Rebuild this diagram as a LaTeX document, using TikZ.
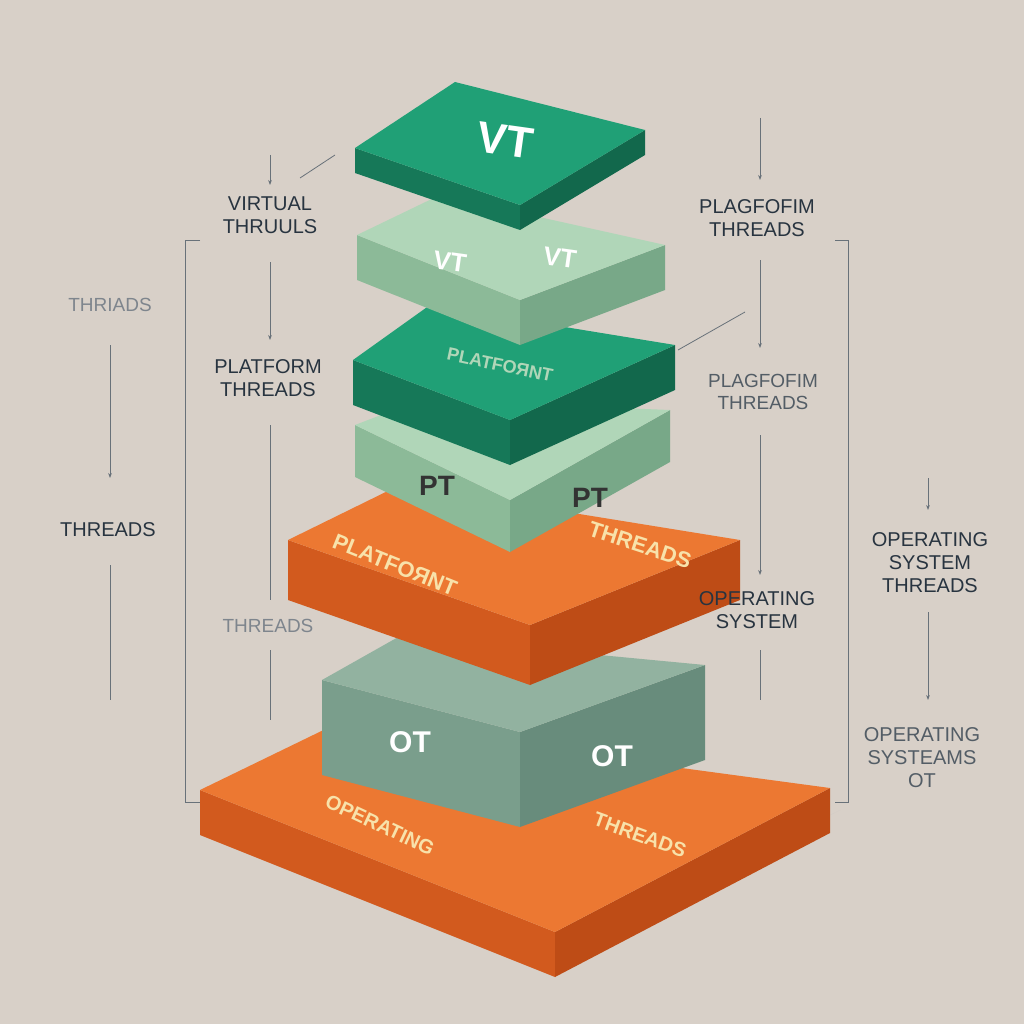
\documentclass[tikz,border=0pt]{standalone}
\usepackage{fontspec}
\setmainfont{Liberation Sans}
\usetikzlibrary{calc,arrows.meta}
\definecolor{bg}{RGB}{216,208,200}
\definecolor{gtop}{RGB}{32,160,118}
\definecolor{gl}{RGB}{22,120,88}
\definecolor{gr}{RGB}{18,104,76}
\definecolor{lgtop}{RGB}{176,214,184}
\definecolor{lgl}{RGB}{140,186,152}
\definecolor{lgr}{RGB}{120,168,136}
\definecolor{otop}{RGB}{236,120,50}
\definecolor{ol}{RGB}{210,90,30}
\definecolor{orr}{RGB}{190,76,22}
\definecolor{ttop}{RGB}{146,178,160}
\definecolor{tl}{RGB}{122,158,140}
\definecolor{tr}{RGB}{104,140,124}
\definecolor{lab}{RGB}{40,52,64}
\definecolor{cream}{RGB}{248,226,170}
\newcommand\slabdraw[8]{%
 \fill[#2] (#4) -- (#7) -- ($(#7)+(0,#8)$) -- ($(#4)+(0,#8)$) -- cycle;
 \fill[#3] (#7) -- (#6) -- ($(#6)+(0,#8)$) -- ($(#7)+(0,#8)$) -- cycle;
 \fill[#1] (#4) -- (#5) -- (#6) -- (#7) -- cycle;}
\tikzset{lbl/.style={align=center,text=lab,font=\fontsize{20}{23}\selectfont},
 glbl/.style={align=center,text=lab!60,font=\fontsize{19}{22}\selectfont},
 ln/.style={draw=lab!70,line width=0.8pt},
 arr/.style={ln,-{Stealth[length=5pt]}},
 onslab/.style={font=\bfseries\fontsize{#1}{#1}\selectfont}}
\begin{document}
\begin{tikzpicture}[x=1pt,y=-1pt]
\fill[bg] (0,0) rectangle (1024,1024);
\useasboundingbox (0,0) rectangle (1024,1024);
% shadows
\fill[black!25,opacity=0.35] (215,810) -- (560,955) -- (840,810) -- (560,950) -- cycle;
% slabs bottom to top
\slabdraw{otop}{ol}{orr}{200,790}{340,722}{830,788}{555,932}{45}
\slabdraw{ttop}{tl}{tr}{322,680}{400,636}{705,665}{520,732}{95}
\slabdraw{otop}{ol}{orr}{288,540}{400,485}{740,540}{530,625}{60}
\slabdraw{lgtop}{lgl}{lgr}{355,425}{420,400}{670,410}{510,500}{52}
\slabdraw{gtop}{gl}{gr}{353,360}{430,305}{675,345}{510,420}{45}
\slabdraw{lgtop}{lgl}{lgr}{357,235}{440,195}{665,245}{520,300}{45}
\slabdraw{gtop}{gl}{gr}{355,148}{455,82}{645,130}{520,205}{25}
% slab texts
\node[onslab=44,text=white,rotate=-8] (vt1) at (505,140) {VT};
\node[onslab=26,text=white,rotate=-8] (vt2) at (450,262) {VT};
\node[onslab=26,text=white,rotate=-8] (vt3) at (560,258) {VT};
\node[onslab=18,text=lgtop,rotate=-12] (pl1) at (500,365) {PLATFOЯNT};
\node[onslab=28,text=black!80] (pt1) at (437,486) {PT};
\node[onslab=28,text=black!80] (pt2) at (590,498) {PT};
\node[onslab=22,text=cream,rotate=-22] (pl2) at (395,565) {PLATFOЯNT};
\node[onslab=22,text=cream,rotate=-18] (th1) at (640,545) {THREADS};
\node[onslab=30,text=white] (ot1) at (410,742) {OT};
\node[onslab=30,text=white] (ot2) at (612,756) {OT};
\node[onslab=20,text=cream,rotate=-25] (op1) at (380,825) {OPERATING};
\node[onslab=20,text=cream,rotate=-20] (th2) at (640,835) {THREADS};
% labels left
\node[lbl] (l1) at (270,215) {VIRTUAL\\THRUULS};
\node[glbl] (l2) at (110,305) {THRIADS};
\node[lbl] (l3) at (268,378) {PLATFORM\\THREADS};
\node[lbl] (l4) at (108,530) {THREADS};
\node[glbl] (l5) at (268,626) {THREADS};
% labels right
\node[lbl] (r1) at (757,218) {PLAGFOFIM\\THREADS};
\node[glbl,text=lab!80] (r2) at (763,392) {PLAGFOFIM\\THREADS};
\node[lbl] (r3) at (930,563) {OPERATING\\SYSTEM\\THREADS};
\node[lbl] (r4) at (757,610) {OPERATING\\SYSTEM};
\node[lbl,text=lab!80] (r5) at (922,758) {OPERATING\\SYSTEAMS\\OT};
% coordinates for connectors
\coordinate (a1) at (270,155); \coordinate (a1e) at (270,185);
\coordinate (a2) at (270,262); \coordinate (a2e) at (270,340);
\coordinate (a3) at (270,425); \coordinate (a3e) at (270,600);
\coordinate (a4) at (270,650); \coordinate (a4e) at (270,720);
\coordinate (b1) at (110,345); \coordinate (b1e) at (110,478);
\coordinate (b2) at (110,565); \coordinate (b2e) at (110,700);
\coordinate (c1) at (760,118); \coordinate (c1e) at (760,180);
\coordinate (c2) at (760,260); \coordinate (c2e) at (760,348);
\coordinate (c3) at (760,435); \coordinate (c3e) at (760,575);
\coordinate (c4) at (760,650); \coordinate (c4e) at (760,700);
\coordinate (d1) at (928,478); \coordinate (d1e) at (928,510);
\coordinate (d2) at (928,612); \coordinate (d2e) at (928,700);
\draw[arr] (a1) -- (a1e);
\draw[arr] (a2) -- (a2e);
\draw[ln] (a3) -- (a3e);
\draw[ln] (a4) -- (a4e);
\draw[arr] (b1) -- (b1e);
\draw[ln] (b2) -- (b2e);
\draw[arr] (c1) -- (c1e);
\draw[arr] (c2) -- (c2e);
\draw[arr] (c3) -- (c3e);
\draw[ln] (c4) -- (c4e);
\draw[arr] (d1) -- (d1e);
\draw[arr] (d2) -- (d2e);
% brackets
\coordinate (lb1) at (200,240); \coordinate (lb2) at (200,802);
\draw[ln] (lb1) -- ++(-15,0) |- (lb2);
\coordinate (rb1) at (835,240); \coordinate (rb2) at (835,802);
\draw[ln] (rb1) -- ++(13,0) |- (rb2);
\coordinate (t1) at (300,178); \coordinate (t1e) at (335,155);
\draw[ln] (t1) -- (t1e);
\coordinate (t2) at (678,350); \coordinate (t2e) at (745,312);
\draw[ln] (t2) -- (t2e);
\end{tikzpicture}
\end{document}
